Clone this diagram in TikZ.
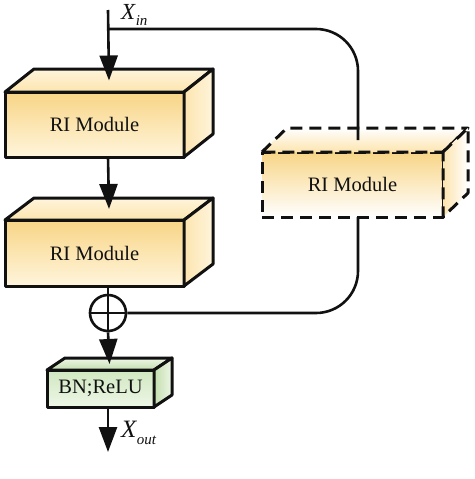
\documentclass[tikz,border=0pt]{standalone}
\usepackage{fontspec}
\setmainfont{Liberation Serif}
\usetikzlibrary{arrows.meta,calc}
\definecolor{ydark}{HTML}{F8D586}
\definecolor{ymid}{HTML}{FCE4AE}
\definecolor{ylight}{HTML}{FFF5DC}
\definecolor{gdark}{HTML}{C2DEAD}
\definecolor{gmid}{HTML}{D0E7C0}
\definecolor{glight}{HTML}{EEF7E7}
\definecolor{ink}{HTML}{111111}
\begin{document}
\begin{tikzpicture}[x=1pt,y=-1pt,
  face/.style={draw=ink,line width=3pt,line join=round},
  front/.style={face,rectangle,outer sep=0pt,inner sep=0pt,font=\fontsize{20.5}{20.5}\selectfont,text=ink},
  yfront/.style={top color=ydark,bottom color=ylight},
  ytop/.style={top color=ylight,bottom color=ymid},
  yside/.style={left color=ymid,right color=ylight},
  dfront/.style={top color=ydark,bottom color=white},
  dtop/.style={top color=white,bottom color=ymid},
  dside/.style={left color=ymid,right color=white},
  gfront/.style={top color=gmid,bottom color=glight},
  gtop/.style={top color=glight,bottom color=gdark},
  gside/.style={left color=gdark,right color=glight},
  dashbox/.style={dash pattern=on 12pt off 7pt},
  conn/.style={draw=ink,line width=2.6pt},
  tip/.style={-{Triangle[length=25pt,width=18pt]}},
  lbl/.style={inner sep=0pt,anchor=base west,text=ink}
]
\useasboundingbox (0,0) rectangle (474,479);
\fill[white] (0,0) rectangle (474,479);

% Dashed RI module
\node[front,dashbox,dfront,minimum width=181pt,minimum height=65pt] (d) at (352.5,184.5) {RI Module};
\draw[face,dashbox,dtop] (d.north west) -- ++(25,-24) -- ++(181,0) -- (d.north east) -- cycle;
\draw[face,dashbox,dside] (d.north east) -- ++(25,-24) -- ++(0,65) -- (d.south east) -- cycle;

% RI module 1
\node[front,yfront,minimum width=179pt,minimum height=65pt] (b1) at (94.5,124.5) {RI Module};
\draw[face,ytop] (b1.north west) -- ++(29,-23) -- ++(179,0) -- (b1.north east) -- cycle;
\draw[face,yside] (b1.north east) -- ++(29,-23) -- ++(0,65) -- (b1.south east) -- cycle;

% RI module 2
\node[front,yfront,minimum width=179pt,minimum height=66pt] (b2) at (94.5,253) {RI Module};
\draw[face,ytop] (b2.north west) -- ++(29,-22) -- ++(179,0) -- (b2.north east) -- cycle;
\draw[face,yside] (b2.north east) -- ++(29,-22) -- ++(0,66) -- (b2.south east) -- cycle;

% BN;ReLU
\node[front,gfront,minimum width=107pt,minimum height=37pt] (bn) at (100.5,388.5) {BN;ReLU};
\draw[face,gtop] (bn.north west) -- ++(18,-12) -- ++(107,0) -- (bn.north east) -- cycle;
\draw[face,gside] (bn.north east) -- ++(18,-12) -- ++(0,37) -- (bn.south east) -- cycle;

% adder
\node[draw=ink,line width=2.6pt,circle,minimum size=36pt,inner sep=0pt] (add) at (108,313) {};

% coordinates
\coordinate (in) at (108,10);
\coordinate (br) at (108,29);
\coordinate (out) at (108,452);
\coordinate (t1) at ($(b1.north)+(14.5,-11.5)$);
\coordinate (t2) at ($(b2.north)+(14.5,-11)$);
\coordinate (tbn) at ($(bn.north)+(9,-6)$);
\coordinate (td) at ($(d.north)+(5.5,-12)$);
\coordinate (bd) at ($(d.south)+(5.5,0)$);

% connectors
\draw[conn,tip] (in) -- (t1);
\draw[conn,tip] (b1.south -| in) -- (t2);
\draw[conn] (b2.south -| in) -- (add.south);
\draw[conn] (add.west) -- (add.east);
\draw[conn,tip] (add.south) -- (tbn);
\draw[conn,tip] (bn.south -| in) -- (out);
\draw[conn,rounded corners=42pt] (br) -- (td |- br) -- (td);
\draw[conn,rounded corners=42pt] (bd) -- (bd |- add) -- (add.east);

% labels
\node[lbl] (xin) at (121,19) {\fontsize{23}{23}\selectfont\itshape X\kern0.5pt\raisebox{-6pt}{\fontsize{15}{15}\selectfont in}};
\node[lbl] (xout) at (121,437) {\fontsize{25}{25}\selectfont\itshape X\kern0.5pt\raisebox{-7pt}{\fontsize{15}{15}\selectfont out}};
\end{tikzpicture}
\end{document}
